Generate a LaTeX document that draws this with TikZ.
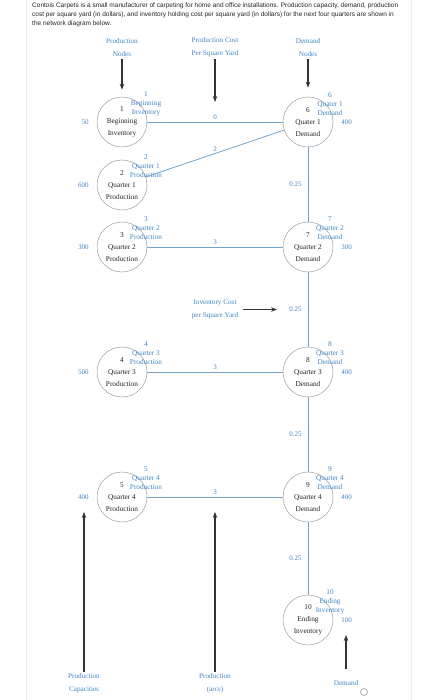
\documentclass[tikz,border=0pt]{standalone}
\usepackage{fontspec}
\setmainfont{Liberation Serif}
\setsansfont{Liberation Sans}
\usepackage{xcolor}
\usetikzlibrary{positioning,arrows.meta}
\definecolor{netblue}{RGB}{66,134,196}
\definecolor{arcblue}{RGB}{115,162,202}
\definecolor{ringgray}{RGB}{160,160,160}
\definecolor{inkgray}{RGB}{35,35,35}

\begin{document}
\begin{tikzpicture}[
    x=1pt, y=-1pt,
    >=Stealth,
    font=\fontsize{7}{9}\selectfont,
    netnode/.style = {circle, draw=ringgray, line width=0.5pt, minimum size=50pt,
                      inner sep=0pt, align=center, text=inkgray,
                      font=\fontsize{7.3}{12}\selectfont},
    tag/.style     = {align=center, text=netblue, inner sep=0pt,
                      font=\fontsize{7.3}{9}\selectfont},
    qty/.style     = {text=netblue, inner sep=0pt, font=\fontsize{7}{9}\selectfont},
    cost/.style    = {text=netblue, inner sep=2pt, font=\fontsize{7}{9}\selectfont},
    head/.style    = {align=center, text=netblue, inner sep=2pt,
                      font=\fontsize{7.2}{13}\selectfont},
    arc/.style     = {draw=arcblue, line width=0.8pt},
    pointer/.style = {-{Stealth[length=6pt,width=4.5pt]}, line width=1.3pt,
                      draw=black!80},
]
\useasboundingbox (0,0) rectangle (420,700);

%% ── Page edges ────────────────────────────────────────────────────────────
\draw[black!7, line width=1pt] (26,0) -- (26,700);
\draw[black!7, line width=1pt] (411,0) -- (411,700);

%% ── Problem statement ─────────────────────────────────────────────────────
\node[anchor=north west, align=left, inner sep=0pt, text=inkgray,
      font=\sffamily\fontsize{6.5}{8.6}\selectfont] (intro) at (32,3)
  {Contois Carpets is a small manufacturer of carpeting for home and office installations. Production capacity, demand, production\\
   cost per square yard (in dollars), and inventory holding cost per square yard (in dollars) for the next four quarters are shown in\\
   the network diagram below.};

%% ── Headings ──────────────────────────────────────────────────────────────
\node[head] (prodnodes) at (122,47.5) {Production\\Nodes};
\node[head] (prodcost)  at (215,47.5) {Production Cost\\Per Square Yard};
\node[head] (demnodes)  at (308,47.5) {Demand\\Nodes};

%% ── Production nodes ──────────────────────────────────────────────────────
\node[netnode] (n1) at (122,122) {1\\Beginning\\Inventory};
\node[netnode] (n2) at (122,185) {2\\Quarter 1\\Production};
\node[netnode] (n3) at (122,247) {3\\Quarter 2\\Production};
\node[netnode] (n4) at (122,372) {4\\Quarter 3\\Production};
\node[netnode] (n5) at (122,497) {5\\Quarter 4\\Production};

%% ── Demand nodes ──────────────────────────────────────────────────────────
\node[netnode] (n6)  at (308,122) {6\\Quater 1\\Demand};
\node[netnode] (n7)  at (308,247) {7\\Quarter 2\\Demand};
\node[netnode] (n8)  at (308,372) {8\\Quarter 3\\Demand};
\node[netnode] (n9)  at (308,497) {9\\Quarter 4\\Demand};
\node[netnode] (n10) at (308,620) {10\\Ending\\Inventory};

%% ── Node tags ─────────────────────────────────────────────────────────────
\node[tag, shift={(24,-18)}] (t1)  at (n1)  {1\\Beginning\\Inventory};
\node[tag, shift={(24,-19)}] (t2)  at (n2)  {2\\Quarter 1\\Production};
\node[tag, shift={(24,-19)}] (t3)  at (n3)  {3\\Quarter 2\\Production};
\node[tag, shift={(24,-19)}] (t4)  at (n4)  {4\\Quarter 3\\Production};
\node[tag, shift={(24,-19)}] (t5)  at (n5)  {5\\Quarter 4\\Production};
\node[tag, shift={(22,-18)}] (t6)  at (n6)  {6\\Quater 1\\Demand};
\node[tag, shift={(22,-19)}] (t7)  at (n7)  {7\\Quarter 2\\Demand};
\node[tag, shift={(22,-19)}] (t8)  at (n8)  {8\\Quarter 3\\Demand};
\node[tag, shift={(22,-19)}] (t9)  at (n9)  {9\\Quarter 4\\Demand};
\node[tag, shift={(22,-18)}] (t10) at (n10) {10\\Ending\\Inventory};

%% ── Capacities and demands ────────────────────────────────────────────────
\node[qty, left=8pt of n1] (s1) {50};
\node[qty, left=8pt of n2] (s2) {600};
\node[qty, left=8pt of n3] (s3) {300};
\node[qty, left=8pt of n4] (s4) {500};
\node[qty, left=8pt of n5] (s5) {400};
\node[qty, right=8pt of n6]  (d6)  {400};
\node[qty, right=8pt of n7]  (d7)  {300};
\node[qty, right=8pt of n8]  (d8)  {400};
\node[qty, right=8pt of n9]  (d9)  {400};
\node[qty, right=8pt of n10] (d10) {100};

%% ── Production arcs ───────────────────────────────────────────────────────
\draw[arc] (n1) -- node[cost, above] {0} (n6);
\draw[arc] (n2) -- node[cost, above] {2} (n6);
\draw[arc] (n3) -- node[cost, above] {3} (n7);
\draw[arc] (n4) -- node[cost, above] {3} (n8);
\draw[arc] (n5) -- node[cost, above] {3} (n9);

%% ── Inventory arcs ────────────────────────────────────────────────────────
\draw[arc] (n6) -- node[cost, left=4pt] {0.25} (n7);
\draw[arc] (n7) -- node[cost, left=4pt] (inv78) {0.25} (n8);
\draw[arc] (n8) -- node[cost, left=4pt] {0.25} (n9);
\draw[arc] (n9) -- node[cost, left=4pt] {0.25} (n10);

%% ── Pointers ──────────────────────────────────────────────────────────────
\node[head] (invcost) at (215,309.5) {Inventory Cost\\per Square Yard};
\coordinate (pcosttip) at (215,102);
\coordinate (invtip)   at (277,309.5);
\draw[pointer, shorten >=7pt] (prodnodes) -- (n1);
\draw[pointer, shorten >=9pt] (demnodes) -- (n6);
\draw[pointer] (prodcost) -- (pcosttip);
\draw[pointer, shorten <=3pt] (invcost) -- (invtip);

%% ── Legend at foot ────────────────────────────────────────────────────────
\node[head] (caps) at (84,683.5)  {Production\\Capacities};
\node[head] (arcs) at (215,683.5) {Production\\(arcs)};
\node[head] (dem)  at (346,683)   {Demand};
\coordinate (capstip) at (84,512);
\coordinate (arcstip) at (215,512);
\coordinate (demtip)  at (346,635);
\draw[pointer] (caps) -- (capstip);
\draw[pointer] (arcs) -- (arcstip);
\draw[pointer] (dem.north) ++(0,-9) -- (demtip);

\node[circle, draw=black!45, line width=0.5pt, minimum size=7pt, inner sep=0pt]
  (icon) at (364,692) {};

\end{tikzpicture}
\end{document}
